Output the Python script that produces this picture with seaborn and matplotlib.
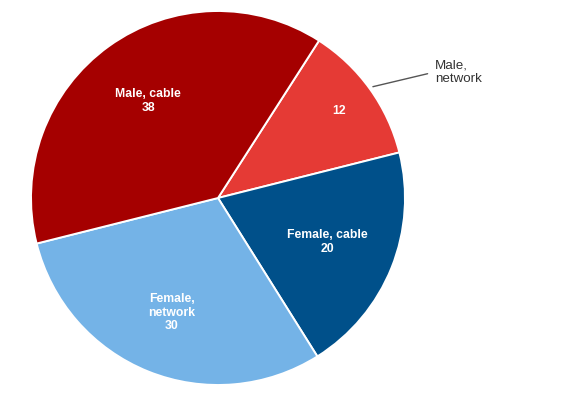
import numpy as np
import matplotlib
matplotlib.use("Agg")
import matplotlib.pyplot as plt
import seaborn as sns

sns.set_style("white")
plt.rcParams['font.family'] = ['Liberation Sans', 'DejaVu Sans']

# data
labels = ['Male, network', 'Female, cable', 'Female, network', 'Male, cable']
values = [12, 20, 30, 38]
colors = sns.color_palette(['#e53a35', '#00508a', '#74b3e7', '#a50000'])
# how far out each inside label sits (fraction of radius)
label_r = [0.80, 0.63, 0.66, 0.64]
show_name_inside = [False, True, True, True]

fig = plt.figure(figsize=(5.7, 4.07), dpi=100)
ax = fig.add_axes([31 / 570, 22 / 407, 374 / 570, 374 / 407])

wedges, _ = ax.pie(values, colors=colors, startangle=57.3, counterclock=False,
                   radius=1.0, wedgeprops=dict(edgecolor='white', linewidth=1.4))

for w, lab, val, r, inside in zip(wedges, labels, values, label_r, show_name_inside):
    mid = np.deg2rad((w.theta1 + w.theta2) / 2)
    x, y = r * np.cos(mid), r * np.sin(mid)
    name = lab.replace('Female, network', 'Female,\nnetwork')
    txt = f"{name}\n{val}" if inside else str(val)
    ax.text(x, y, txt, ha='center', va='center', color='white',
            fontsize=8.8, fontweight='bold', linespacing=1.2)
    if not inside:
        ax.annotate(lab.replace(', ', ',\n'), xy=(1.02 * np.cos(mid), 1.02 * np.sin(mid)),
                    xytext=(1.16, 0.674), ha='left', va='center', fontsize=9.6,
                    color='#333333', linespacing=1.15,
                    arrowprops=dict(arrowstyle='-', color='#555555', lw=1,
                                    shrinkA=3, shrinkB=0, relpos=(0, 0.5)))

ax.set_xlim(-1, 1)
ax.set_ylim(-1, 1)
ax.set_aspect('equal')
ax.axis('off')

fig.savefig('out.png', dpi=100)
